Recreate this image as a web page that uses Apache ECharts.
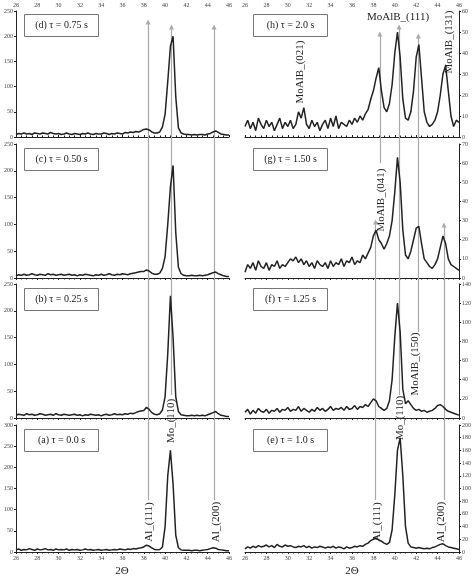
<!DOCTYPE html>
<html>
<head>
<meta charset="utf-8">
<script src="https://cdn.jsdelivr.net/npm/echarts@6/dist/echarts.min.js"></script>
<style>
  html, body { margin: 0; padding: 0; background: #fff; }
  #chart { width: 474px; height: 577px; }
</style>
</head>
<body>
<div id="chart"></div>
<script>
// 2θ 从 26 到 46，步长 0.25
var xStart = 26, xStep = 0.25;

// 左列 (d)(c)(b)(a)
var dVals = [5,7,6,8,6,7,5,8,7,6,8,7,6,9,7,6,7,5,6,8,6,5,7,6,5,7,6,8,6,5,7,6,6,8,7,5,7,6,8,7,6,9,8,10,9,11,10,12]
  .concat([15,16,14,10,8,8,10,20,45,110,180,200,80,18,8,6,5,5,4,5,4,5,5,4,6,7,10,12,9,6,5,4,4]);
var cVals = [4,6,5,7,5,6,8,6,5,7,6,5,8,6,7,5,6,7,5,6,7,5,6,4,6,5,7,6,5,4,6,5,7,5,6,8,6,5,7,6,8,7,6,8,9,10,11,12]
  .concat([12,15,13,9,7,7,9,18,40,100,170,210,85,20,8,5,4,4,5,4,4,5,4,5,6,8,10,11,8,6,4,3,3]);
var bVals = [5,7,6,5,8,6,7,5,6,8,7,5,6,7,5,8,6,5,7,6,5,6,7,5,6,4,6,5,7,6,5,6,4,6,7,5,6,8,6,7,6,8,7,9,8,10,12,13]
  .concat([14,20,16,10,7,6,8,15,40,120,228,150,40,12,6,5,4,4,5,4,5,4,5,4,6,8,10,12,8,5,4,3,3]);
var aVals = [5,7,4,6,5,8,6,4,7,5,6,8,5,6,4,7,5,6,5,7,4,6,5,6,4,5,7,5,6,4,5,6,4,5,6,4,5,6,5,7,6,5,7,6,8,7,9,10]
  .concat([12,16,14,10,6,5,6,12,60,180,240,160,40,10,5,4,4,4,3,4,4,3,4,5,6,8,10,9,6,5,4,3,3]);

// 右列 (h)(g)(f)(e)
var hVals = [5,8,4,7,3,9,6,4,8,5,7,3,6,9,4,7,5,8,4,6,12,9,14,6,4,8,5,7,3,6,8,4,9,5,10,4,7,6,5,8,6,9,7,10,8,11,13,18]
  .concat([22,28,33,22,14,12,16,25,40,50,38,18,9,8,12,22,38,44,28,12,7,5,6,8,12,20,30,34,22,10,5,8,7]);
var gVals = [3,7,5,8,4,9,6,5,8,4,7,6,9,5,7,6,8,10,9,11,8,10,7,9,6,8,5,9,7,6,8,5,9,6,8,7,10,6,9,8,11,7,9,8,12,10,13,16]
  .concat([22,25,20,18,15,18,22,30,45,63,50,25,12,10,14,20,26,27,18,10,8,6,5,7,10,16,22,18,10,7,6,5,4]);
var fVals = [6,9,4,8,5,10,7,6,9,5,8,7,10,6,9,8,11,7,9,8,12,7,10,8,6,9,7,11,8,10,7,9,12,8,10,9,11,8,12,9,10,13,9,12,11,14,12,16]
  .concat([20,18,12,10,8,10,18,40,85,120,90,30,15,18,14,10,8,9,7,8,6,7,8,10,13,14,12,9,7,6,5,4,3]);
var eVals = [5,8,6,9,7,10,8,9,11,8,10,7,12,9,8,11,9,10,8,7,9,8,10,7,9,6,8,7,9,8,6,8,7,9,6,8,7,5,8,6,7,9,8,10,9,12,14,18]
  .concat([20,22,19,17,14,12,15,35,90,160,180,120,40,14,8,7,6,7,6,5,6,5,7,8,10,12,13,10,8,7,6,5,4]);

var panelNames = ['(d) τ = 0.75 s', '(c) τ = 0.50 s', '(b) τ = 0.25 s', '(a) τ = 0.0 s',
                  '(h) τ = 2.0 s', '(g) τ = 1.50 s', '(f) τ = 1.25 s', '(e) τ = 1.0 s'];
var panelData = [dVals, cVals, bVals, aVals, hVals, gVals, fVals, eVals];
var yMax = [250, 250, 250, 300, 60, 70, 140, 200];
var yStep = [50, 50, 50, 50, 10, 10, 20, 20];

// 参考线：[x, 下端像素, 上端像素]
var leftRefLines = [[38.4, 500, 22], [40.6, 395, 27], [44.6, 500, 27]];
var rightRefLines = [[38.6, 163, 34], [38.2, 500, 222], [40.4, 395, 27], [42.2, 332, 36], [44.6, 500, 225]];

function toPairs(vals) {
  return vals.map(function (v, i) { return [xStart + i * xStep, v]; });
}

var myChart = echarts.init(document.getElementById('chart'));
var serif = 'Liberation Serif';
var tops = [11, 144, 284, 425];
var heights = [126, 134, 134, 127];

var grids = [], xAxes = [], yAxes = [], series = [], graphics = [];

// 参考线放在最底层
[[16, 213, leftRefLines], [245, 214, rightRefLines]].forEach(function (col) {
  var gi = grids.length;
  grids.push({ left: col[0], width: col[1], top: 0, height: 577 });
  xAxes.push({ gridIndex: gi, type: 'value', min: 26, max: 46, show: false });
  yAxes.push({ gridIndex: gi, type: 'value', min: 0, max: 577, inverse: true, show: false });
  series.push({
    type: 'lines', coordinateSystem: 'cartesian2d', xAxisIndex: gi, yAxisIndex: gi,
    symbol: ['none', 'triangle'], symbolSize: 5, z: 1,
    lineStyle: { color: '#aaa', width: 1.2, opacity: 1 },
    data: col[2].map(function (l) { return { coords: [[l[0], l[1]], [l[0], l[2]]] }; })
  });
});

for (var i = 0; i < 8; i++) {
  var right = i >= 4, row = i % 4, gi = grids.length;
  grids.push({ left: right ? 245 : 16, width: right ? 214 : 213, top: tops[row], height: heights[row] });
  xAxes.push({
    gridIndex: gi, type: 'value', min: 26, max: 46, interval: 2,
    position: row === 0 ? 'top' : 'bottom',
    axisLine: { lineStyle: { color: '#222', width: 1 } },
    axisTick: { length: 2, lineStyle: { color: '#222' } },
    minorTick: { show: true, splitNumber: 4, length: 1.5, lineStyle: { color: '#222' } },
    axisLabel: { show: row === 0 || row === 3, fontSize: 6, color: '#444', fontFamily: serif, margin: 3 },
    splitLine: { show: false }
  });
  yAxes.push({
    gridIndex: gi, type: 'value', min: 0, max: yMax[i], interval: yStep[i],
    position: right ? 'right' : 'left',
    axisLine: { show: true, lineStyle: { color: '#222', width: 1 } },
    axisTick: { show: true, length: 2, lineStyle: { color: '#222' } },
    axisLabel: { fontSize: 6, color: '#444', fontFamily: serif, margin: 3 },
    splitLine: { show: false }
  });
  series.push({
    type: 'line', xAxisIndex: gi, yAxisIndex: gi, data: toPairs(panelData[i]),
    showSymbol: false, lineStyle: { color: '#222', width: 1.5 }, z: 3
  });
  graphics.push({
    type: 'group', left: right ? 253 : 24, top: tops[row] + (row === 0 ? 3 : 4),
    children: [
      { type: 'rect', shape: { x: 0, y: 0, width: 74, height: 22 },
        style: { fill: '#fff', stroke: '#777', lineWidth: 1 } },
      { type: 'text', x: 37, y: 11,
        style: { text: panelNames[i], font: '10px ' + serif, fill: '#222', align: 'center', verticalAlign: 'middle' } }
    ]
  });
}

function vText(txt, x, y) {
  return { type: 'text', x: x, y: y, rotation: Math.PI / 2,
    style: { text: txt, font: '11px ' + serif, fill: '#222', align: 'center', verticalAlign: 'middle' } };
}
graphics.push(
  vText('Al_(111)', 149, 522), vText('Mo_(110)', 171, 421), vText('Al_(200)', 216, 522),
  vText('Al_(111)', 377, 522), vText('Mo_(110)', 400, 418), vText('Al_(200)', 441, 522),
  vText('MoAlB_(150)', 415, 364), vText('MoAlB_(041)', 381, 200), vText('MoAlB_(021)', 300, 72),
  vText('MoAlB_(131)', 449, 42),
  { type: 'text', x: 398, y: 17, style: { text: 'MoAlB_(111)', font: '11px ' + serif, fill: '#222', align: 'center', verticalAlign: 'middle' } },
  { type: 'text', x: 122, y: 571, style: { text: '2Θ', font: '11px ' + serif, fill: '#222', align: 'center', verticalAlign: 'middle' } },
  { type: 'text', x: 352, y: 571, style: { text: '2Θ', font: '11px ' + serif, fill: '#222', align: 'center', verticalAlign: 'middle' } }
);

myChart.setOption({
  animation: false,
  grid: grids, xAxis: xAxes, yAxis: yAxes, series: series, graphic: graphics
});
window.addEventListener('resize', function () { myChart.resize(); });
</script>
</body>
</html>
